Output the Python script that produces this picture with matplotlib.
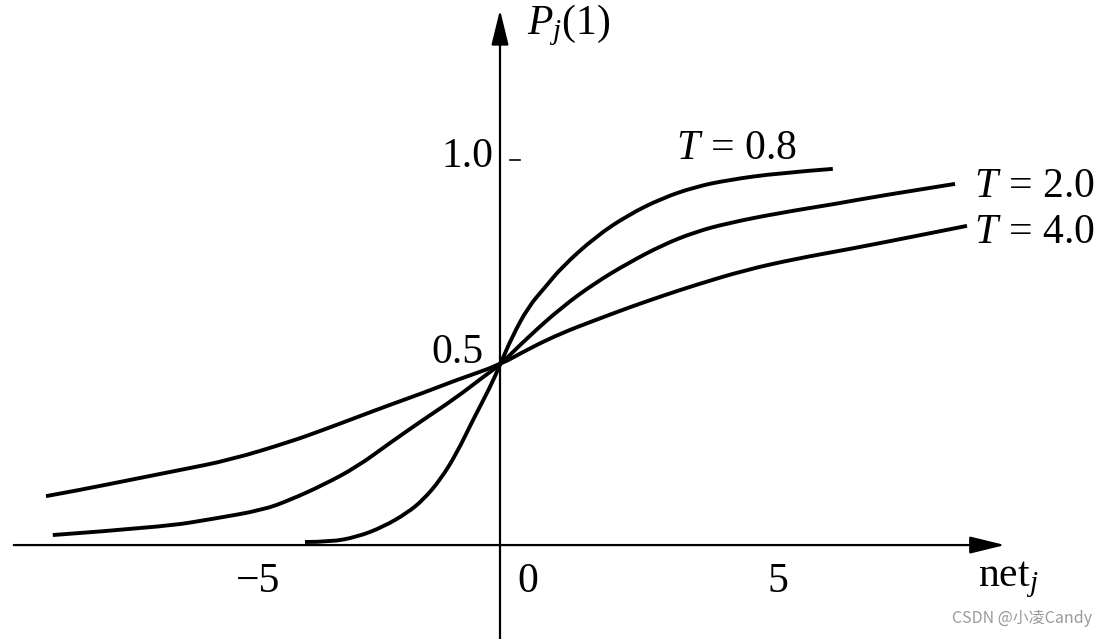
import matplotlib
matplotlib.use("Agg")
from matplotlib import pyplot as plt
from matplotlib.path import Path
from matplotlib.patches import PathPatch

plt.rcParams['font.family'] = ['Liberation Serif', 'DejaVu Serif']
plt.rcParams['mathtext.fontset'] = 'custom'
plt.rcParams['mathtext.rm'] = 'Liberation Serif'
plt.rcParams['mathtext.it'] = 'Liberation Serif:italic'

# curvas (net, P)
net_t4 = [-8.73, -8.08, -7.12, -6.15, -5.19, -4.04, -3.40, -2.75, -2.12, -1.48, -0.83, 0.0,
          0.54, 1.19, 1.83, 2.46, 3.12, 3.75, 4.71, 5.67, 6.73, 7.79, 8.98]
p_t4 = [0.127, 0.143, 0.169, 0.195, 0.221, 0.268, 0.299, 0.332, 0.364, 0.395, 0.429, 0.468,
        0.509, 0.551, 0.584, 0.616, 0.647, 0.675, 0.714, 0.743, 0.769, 0.797, 0.829]

net_t2 = [-8.60, -6.48, -5.52, -4.56, -4.04, -3.40, -2.75, -2.12, -1.48, -0.83, -0.33, 0.0,
          0.54, 1.19, 1.83, 2.46, 3.12, 3.75, 4.38, 5.35, 6.54, 7.17, 8.75]
p_t2 = [0.026, 0.047, 0.068, 0.091, 0.117, 0.156, 0.203, 0.265, 0.325, 0.384, 0.436, 0.468,
        0.540, 0.618, 0.681, 0.732, 0.779, 0.813, 0.836, 0.862, 0.888, 0.904, 0.938]

net_t08 = [-3.75, -3.27, -2.75, -2.25, -1.79, -1.48, -1.15, -0.83, -0.52, -0.19, 0.0,
           0.23, 0.54, 0.87, 1.19, 1.83, 2.46, 3.12, 3.75, 4.38, 5.35, 6.40]
p_t08 = [0.008, 0.008, 0.021, 0.047, 0.083, 0.117, 0.169, 0.239, 0.325, 0.410, 0.468,
         0.540, 0.618, 0.670, 0.722, 0.800, 0.857, 0.901, 0.930, 0.948, 0.966, 0.977]

x_ticks = [-5, 0, 5]
y_ticks = [0.5, 1.0]


def curva_suave(ax, xs, ys):
    # dibuja la linea con curvas cuadraticas (los puntos leidos como control)
    pts = list(zip(xs, ys))
    verts = [pts[0]]
    codes = [Path.MOVETO]
    for i in range(1, len(pts) - 1):
        medio = ((pts[i][0] + pts[i + 1][0]) / 2, (pts[i][1] + pts[i + 1][1]) / 2)
        if i == len(pts) - 2:
            medio = pts[-1]
        verts += [pts[i], medio]
        codes += [Path.CURVE3, Path.CURVE3]
    ax.add_patch(PathPatch(Path(verts, codes), facecolor='none', edgecolor='black',
                           lw=2.8, capstyle='butt', joinstyle='round'))


fig = plt.figure(figsize=(11.08, 6.39), dpi=100)
ax = fig.add_axes([0, 0, 1, 1])
ax.set_xlim(-9.615, 11.692)
ax.set_ylim(-0.244, 1.4156)
ax.axis('off')

# ejes con flecha
flecha = dict(arrowstyle='-|>,head_length=0.9,head_width=0.22', mutation_scale=24,
              lw=1.6, color='black', shrinkA=0, shrinkB=0)
ax.annotate('', xy=(9.71, 0), xytext=(-9.35, 0), arrowprops=flecha)
ax.annotate('', xy=(0, 1.39), xytext=(0, -0.244), arrowprops=flecha)

# curvas
for xs, ys in [(net_t4, p_t4), (net_t2, p_t2), (net_t08, p_t08)]:
    curva_suave(ax, xs, ys)

# marca de 1.0
ax.plot([0.19, 0.38], [y_ticks[1], y_ticks[1]], color='black', lw=1.2)

fs = 30
ax.text(-0.13, y_ticks[1] + 0.008, '1.0', fontsize=fs, ha='right', va='center')
ax.text(-0.32, y_ticks[0], '0.5', fontsize=fs, ha='right', va='center')
ax.text(0.54, -0.095, str(x_ticks[1]), fontsize=fs, ha='center', va='center')
ax.text(x_ticks[0] + 0.35, -0.095, '\u22125', fontsize=fs, ha='center', va='center')
ax.text(x_ticks[2] + 0.35, -0.095, str(x_ticks[2]), fontsize=fs, ha='center', va='center')

ax.text(0.52, 1.35, r'$P_j(1)$', fontsize=fs, ha='left', va='center')
ax.text(9.2, -0.09, r'$\mathrm{net}_j$', fontsize=fs, ha='left', va='center')

ax.text(4.55, 1.03, r'$T\,=\,0.8$', fontsize=fs, ha='center', va='center')
ax.text(9.12, 0.93, r'$T\,=\,2.0$', fontsize=fs, ha='left', va='center')
ax.text(9.12, 0.81, r'$T\,=\,4.0$', fontsize=fs, ha='left', va='center')

# marca de agua
ax.text(11.38, -0.19, 'CSDN @小凌Candy', fontsize=11.5, color='#9a9a9a', ha='right', va='center',
        family=['Noto Sans CJK SC', 'DejaVu Sans'])

fig.savefig('out.png', dpi=100)
